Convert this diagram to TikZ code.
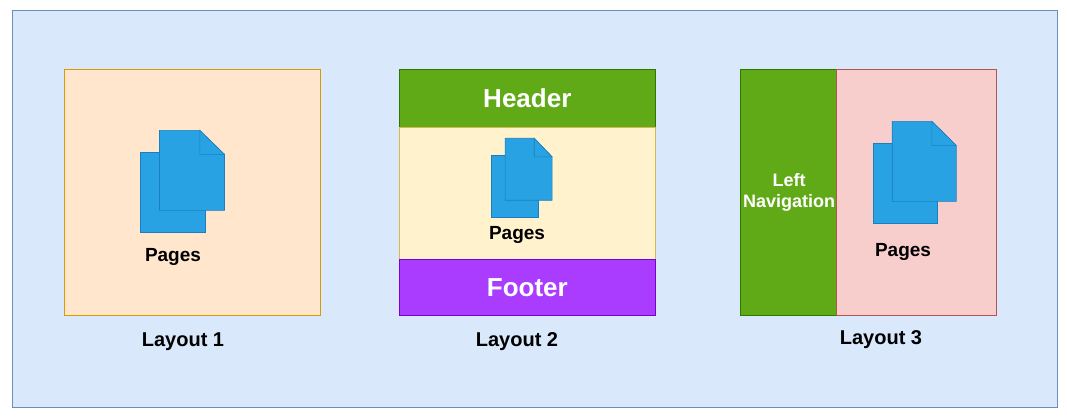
\documentclass[tikz,border=0pt]{standalone}
\usepackage{fontspec}
\setmainfont{Liberation Sans}
\definecolor{bgf}{HTML}{DAE8FC}\definecolor{bgd}{HTML}{6C8EBF}
\definecolor{orf}{HTML}{FFE6CC}\definecolor{ord}{HTML}{D79B00}
\definecolor{gnf}{HTML}{60A917}\definecolor{gnd}{HTML}{2D7600}
\definecolor{ylf}{HTML}{FFF2CC}\definecolor{yld}{HTML}{D6B656}
\definecolor{puf}{HTML}{AA3CFF}\definecolor{pud}{HTML}{7A00CC}
\definecolor{pkf}{HTML}{F8CECC}\definecolor{pkd}{HTML}{B85450}
\definecolor{icf}{HTML}{28A2E2}\definecolor{icd}{HTML}{1A7FBF}
\tikzset{
 box/.style={draw=#1,line width=0.6pt},
 lbl/.style={font=\bfseries\fontsize{#1}{#1}\selectfont,text=black},
 wlbl/.style={font=\bfseries\fontsize{#1}{#1}\selectfont,text=white,align=center},
 ic/.style={fill=icf,draw=icd,line width=0.6pt},
 pages/.pic={
  \path[ic] (0,0) rectangle (1,-1);
  \path[ic] (0.3,0.27) -- (0.92,0.27) -- (1.3,-0.03) -- (1.3,-0.73) -- (0.3,-0.73) -- cycle;
  \path[ic] (0.92,0.27) -- (1.3,-0.03) -- (0.92,-0.03) -- cycle;
 }
}
\begin{document}
\begin{tikzpicture}[x=1pt,y=-1pt]
\useasboundingbox (0,0) rectangle (1067,416);
\path[box=bgd,fill=bgf] (12,10) rectangle (1057,407);
% layout 1
\node[box=ord,fill=orf,minimum width=256pt,minimum height=246pt,inner sep=0,anchor=north west] (l1) at (64,69) {};
\begin{scope}[shift={(140,152)},x=65pt,y=80pt]\pic {pages};\end{scope}
\node[lbl=19] (p1) at (173,257) {Pages};
\node[lbl=20] (t1) at (183,342) {Layout 1};
% layout 2
\node[box=gnd,fill=gnf,minimum width=256pt,minimum height=58pt,inner sep=0,anchor=north west,wlbl=26] (h2) at (399,69) {Header};
\node[box=yld,fill=ylf,minimum width=256pt,minimum height=132pt,inner sep=0,anchor=north west] (m2) at (399,127) {};
\node[box=pud,fill=puf,minimum width=256pt,minimum height=56pt,inner sep=0,anchor=north west,wlbl=26] (f2) at (399,259) {Footer};
\begin{scope}[shift={(491,155)},x=47pt,y=62pt]\pic {pages};\end{scope}
\node[lbl=19] (p2) at (517,235) {Pages};
\node[lbl=20] (t2) at (517,342) {Layout 2};
% layout 3
\node[box=gnd,fill=gnf,minimum width=96pt,minimum height=246pt,inner sep=0,anchor=north west] (n3) at (740,69) {};
\node[box=pkd,fill=pkf,minimum width=160pt,minimum height=246pt,inner sep=0,anchor=north west] (r3) at (836,69) {};
\node[wlbl=18] (nl) at (789,192) {Left\\[3pt]Navigation};
\begin{scope}[shift={(873,143)},x=64pt,y=80pt]\pic {pages};\end{scope}
\node[lbl=19] (p3) at (903,252) {Pages};
\node[lbl=20] (t3) at (881,340) {Layout 3};
\end{tikzpicture}
\end{document}
